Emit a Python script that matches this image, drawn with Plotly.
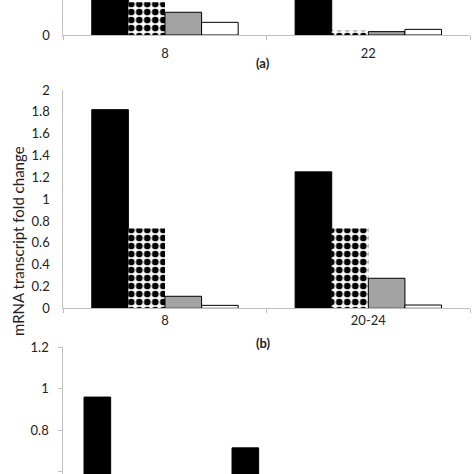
import plotly.graph_objects as go

# ---- data ----
cats_a = ["8", "22"]
black_a = [0.03, 0.03]          # bars run off the top of the visible crop
checker_a = [0.0215, 0.0028]
gray_a = [0.0149, 0.0022]
white_a = [0.0083, 0.0037]

cats_b = ["8", "20-24"]
black_b = [1.82, 1.25]
checker_b = [0.73, 0.73]
gray_b = [0.11, 0.275]
white_b = [0.027, 0.03]

cats_c = ["c1", "c2", "c3"]
black_c = [0.96, 0.715]

W = H = 474
FONT = "Lato, 'Open Sans', sans-serif"
AXIS_GRAY = "#bfbfbf"
CLEAR = "rgba(0,0,0,0)"

def px_x(p):
    return p / W

def px_y(p):
    return 1 - p / H

fig = go.Figure()

bar_w = 0.18
offsets = [-0.36, -0.18, 0.0, 0.18]

styles = [
    dict(color="black", line=dict(color="black", width=1)),
    dict(color="white", line=dict(color="black", width=0),
         pattern=dict(shape=".", fgcolor="black", bgcolor="white", size=8, solidity=0.55, fillmode="replace")),
    dict(color="#a3a3a3", line=dict(color="black", width=1)),
    dict(color="white", line=dict(color="black", width=1)),
]

panels = [
    ("x", "y", cats_a, [black_a, checker_a, gray_a, white_a]),
    ("x2", "y2", cats_b, [black_b, checker_b, gray_b, white_b]),
    ("x3", "y3", cats_c, [black_c]),
]
names = ["Series 1", "Series 2", "Series 3", "Series 4"]

for xa, ya, cats, series in panels:
    for i, vals in enumerate(series):
        fig.add_trace(go.Bar(
            x=cats[:len(vals)], y=vals, xaxis=xa, yaxis=ya,
            width=bar_w, offset=offsets[i], marker=styles[i],
            name=names[i], showlegend=False,
        ))

xdom = [px_x(63.3), px_x(470)]
common_x = dict(type="category", showline=True, linecolor=AXIS_GRAY, linewidth=1,
                showgrid=False, zeroline=False, ticks="outside", tickson="boundaries",
                ticklen=4, tickcolor=AXIS_GRAY, automargin=False,
                tickfont=dict(family=FONT, size=13, color="#222"))
common_y = dict(showline=True, linecolor=AXIS_GRAY, linewidth=1, showgrid=False,
                zeroline=False, automargin=False, ticks="outside", tickcolor=CLEAR,
                tickfont=dict(family=FONT, size=13, color="#222"))

ydom_c = [0, px_y(347.3)]
range_c = [0.589, 1.2]

fig.update_layout(
    width=W, height=H, margin=dict(l=0, r=0, t=0, b=0, autoexpand=False),
    paper_bgcolor="white", plot_bgcolor="white", barmode="group",
    xaxis=dict(domain=xdom, anchor="y", categoryarray=cats_a, range=[-0.5, 1.5],
               ticklabelstandoff=6, **common_x),
    yaxis=dict(domain=[px_y(35), 1], anchor="x", range=[0, 0.02295], dtick=0.02,
               ticklen=10, **common_y),
    xaxis2=dict(domain=xdom, anchor="y2", categoryarray=cats_b, range=[-0.5, 1.5],
                ticklabelstandoff=0, **common_x),
    yaxis2=dict(domain=[px_y(308.3), px_y(90)], anchor="x2", range=[0, 2], dtick=0.2,
                ticklen=10, **common_y),
    xaxis3=dict(domain=[px_x(63.3), 1], anchor="y3", categoryarray=cats_c,
                range=[-0.5, -0.5 + (474 - 63.3) / 148], showticklabels=False, **common_x),
    yaxis3=dict(domain=ydom_c, anchor="x3", range=range_c, dtick=0.2,
                tick0=0, ticklen=11, **common_y),
    yaxis4=dict(domain=ydom_c, anchor="x3", overlaying="y3", range=range_c, dtick=0.2,
                tick0=0, ticks="outside", ticklen=4, tickcolor=AXIS_GRAY,
                showticklabels=False, showline=False, showgrid=False, zeroline=False,
                automargin=False),
    annotations=[
        dict(text="<b>(a)</b>", x=px_x(263), y=px_y(63), xref="paper", yref="paper",
             xanchor="center", yanchor="middle",
             showarrow=False, font=dict(family=FONT, size=13, color="#222")),
        dict(text="<b>(b)</b>", x=px_x(263), y=px_y(343), xref="paper", yref="paper",
             xanchor="center", yanchor="middle",
             showarrow=False, font=dict(family=FONT, size=13, color="#222")),
        dict(text="mRNA transcript fold change", x=px_x(18), y=px_y(241), xref="paper",
             yref="paper", xanchor="center", yanchor="middle",
             showarrow=False, textangle=-90,
             font=dict(family=FONT, size=15, color="#222")),
    ],
)

# invisible companion trace so the tick-mark axis (y4) is drawn
fig.add_trace(go.Bar(x=cats_c[:1], y=[None], xaxis="x3", yaxis="y4",
                     showlegend=False, hoverinfo="skip", name=""))

fig.write_html("out.html")
